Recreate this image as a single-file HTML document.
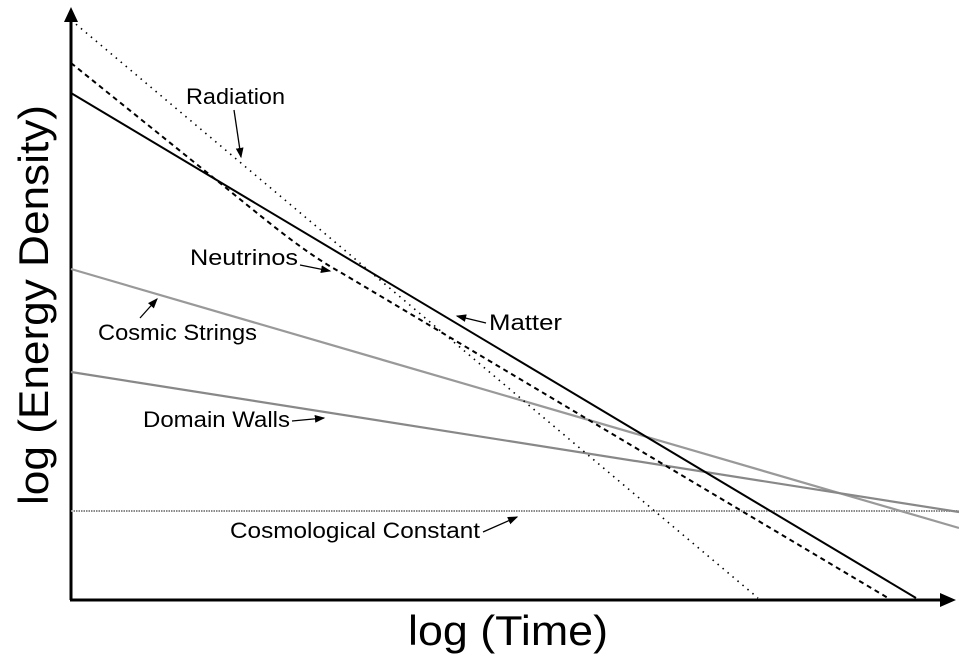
<!DOCTYPE html>
<html><head><style>
body{margin:0;background:#fff;}
svg{display:block;font-family:"Liberation Sans","DejaVu Sans",sans-serif;}
</style></head><body>
<svg width="959" height="665" viewBox="0 0 959 665">
<defs>
<marker id="a" markerWidth="8" markerHeight="8" refX="7" refY="4" orient="auto"><path d="M0,1 L8,4 L0,7 z" fill="#000"/></marker>
</defs>
<line x1="71" y1="600" x2="71" y2="20" stroke="#000" stroke-width="3"/>
<path d="M64,22 L71,7 L78,22 z" fill="#000"/>
<line x1="70" y1="600" x2="942" y2="600" stroke="#000" stroke-width="3"/>
<path d="M940,593 L956,600 L940,607 z" fill="#000"/>
<line x1="71" y1="511" x2="959" y2="511" stroke="#888" stroke-width="2" stroke-dasharray="1.5,1"/>
<line x1="71" y1="269" x2="959" y2="528" stroke="#999" stroke-width="2.2"/>
<line x1="71" y1="372" x2="959" y2="512" stroke="#888" stroke-width="2.2"/>
<line x1="71" y1="20" x2="758" y2="598" stroke="#000" stroke-width="1.6" stroke-dasharray="1.5,5"/>
<line x1="71" y1="93" x2="916" y2="598" stroke="#000" stroke-width="2"/>
<path d="M71,63 L210,175 C260,215 300,250 340,272 L888,598" fill="none" stroke="#000" stroke-width="2" stroke-dasharray="5,4"/>
<g font-size="22" fill="#000">
<text x="186" y="104" textLength="99" lengthAdjust="spacingAndGlyphs">Radiation</text>
<text x="190" y="265" textLength="108" lengthAdjust="spacingAndGlyphs">Neutrinos</text>
<text x="98" y="340" textLength="159" lengthAdjust="spacingAndGlyphs">Cosmic Strings</text>
<text x="489" y="330" textLength="73" lengthAdjust="spacingAndGlyphs">Matter</text>
<text x="143" y="427" textLength="147" lengthAdjust="spacingAndGlyphs">Domain Walls</text>
<text x="230" y="538" textLength="250" lengthAdjust="spacingAndGlyphs">Cosmological Constant</text>
</g>
<g stroke="#000" stroke-width="1.3" fill="none" marker-end="url(#a)">
<line x1="234" y1="110" x2="241" y2="157"/>
<line x1="300" y1="265" x2="330" y2="271"/>
<line x1="140" y1="318" x2="157" y2="299"/>
<line x1="486" y1="323" x2="457" y2="316"/>
<line x1="292" y1="421" x2="324" y2="418"/>
<line x1="483" y1="532" x2="517" y2="517"/>
</g>
<text x="408" y="645" font-size="42" textLength="200" lengthAdjust="spacingAndGlyphs">log (Time)</text>
<text transform="translate(48,505) rotate(-90)" font-size="42" textLength="400" lengthAdjust="spacingAndGlyphs">log (Energy Density)</text>
</svg>
</body></html>
